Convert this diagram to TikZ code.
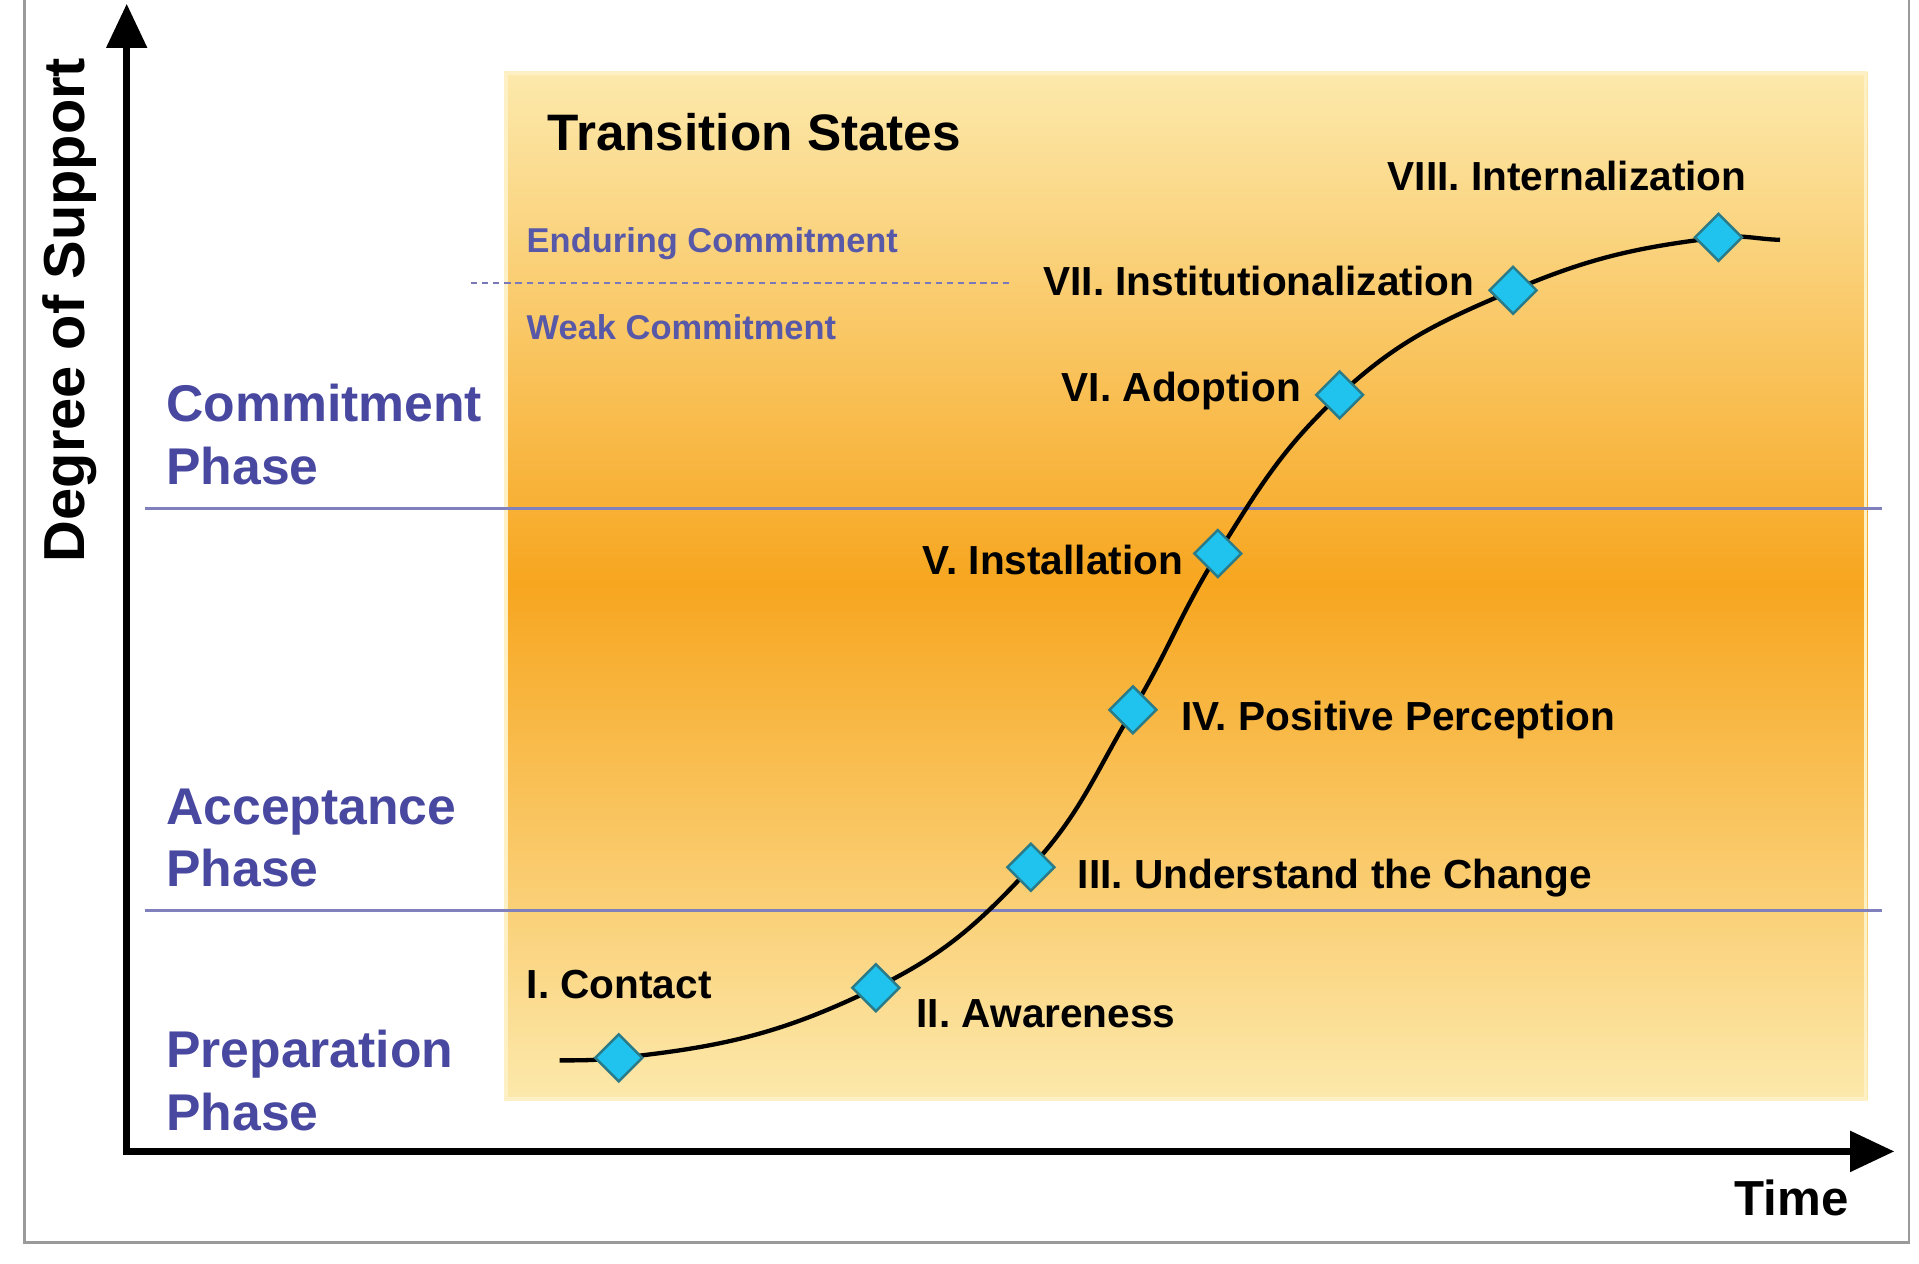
\documentclass[tikz,border=0pt]{standalone}
\usepackage{fontspec}
\setmainfont{Liberation Sans}
\usetikzlibrary{arrows.meta,shapes.geometric}
\definecolor{phasecol}{HTML}{4848A0}
\definecolor{sepline}{HTML}{8080BC}
\definecolor{smallblue}{HTML}{5858A8}
\definecolor{gemfill}{HTML}{1FC3EE}
\definecolor{gemedge}{HTML}{2B7A87}
\definecolor{paleY}{HTML}{FCE9AC}
\definecolor{deepO}{HTML}{F7A61F}
\definecolor{framecol}{HTML}{9A9A9A}
\tikzset{
  axisline/.style={line width=6pt,-{Triangle[length=36pt,width=32pt]}},
  phase/.style={font=\bfseries\fontsize{42}{51}\selectfont,text=phasecol,align=left,inner sep=0pt,anchor=base west},
  statelbl/.style={font=\bfseries\fontsize{33}{38}\selectfont,text=black,inner sep=0pt,anchor=base west},
  commitlbl/.style={font=\bfseries\fontsize{28}{32}\selectfont,text=smallblue,inner sep=0pt,anchor=base west},
  gem/.style={diamond,fill=gemfill,draw=gemedge,line width=2pt,minimum width=39pt,minimum height=39pt,inner sep=0pt},
  sep/.style={draw=sepline,line width=2.5pt},
  scurve/.style={line width=3.5pt,black}
}
\begin{document}
\begin{tikzpicture}[x=1pt,y=-1pt]
\useasboundingbox (0,0) rectangle (1560,1027.5);
\fill[white] (0,0) rectangle (1560,1027.5);
% frame
\draw[framecol,line width=2pt] (20,-10) rectangle (1552,1010);
% orange box
\shade[top color=paleY,bottom color=deepO] (410,58) rectangle (1518,475);
\shade[top color=deepO,bottom color=paleY] (410,474) rectangle (1518,895);
\draw[paleY!70!white,line width=3pt] (411.5,59.5) rectangle (1516.5,893.5);
% separators
\coordinate (s1a) at (118,413); \coordinate (s1b) at (1530,413);
\coordinate (s2a) at (118,740); \coordinate (s2b) at (1530,740);
\draw[sep] (s1a) -- (s1b);
\draw[sep] (s2a) -- (s2b);
% dashed commitment line
\coordinate (da) at (383,230); \coordinate (db) at (820,230);
\draw[smallblue!80,line width=1.6pt,dash pattern=on 5pt off 4pt] (da) -- (db);
% axes
\coordinate (origin) at (103,936);
\coordinate (ytip) at (103,3);
\coordinate (xtip) at (1540,936);
\draw[axisline] (103,939) -- (ytip);
\draw[axisline] (100,936) -- (xtip);
\node[font=\bfseries\fontsize{47}{52}\selectfont,rotate=90,inner sep=0pt] (ylab) at (57,252) {Degree of Support};
\node[font=\bfseries\fontsize{40}{46}\selectfont,inner sep=0pt,anchor=base west] (xlab) at (1410,988) {Time};
% phases (base = last line)
\node[phase] (ph1) at (135,394) {Commitment\\Phase};
\node[phase] (ph2) at (135,721) {Acceptance\\Phase};
\node[phase] (ph3) at (135,919) {Preparation\\Phase};
% titles
\node[font=\bfseries\fontsize{41.7}{46}\selectfont,inner sep=0pt,anchor=base west] (title) at (445,122) {Transition States};
\node[commitlbl] (endur) at (428,205) {Enduring Commitment};
\node[commitlbl] (weak) at (428,276) {Weak Commitment};
% curve
\coordinate (c0) at (455,862);
\coordinate (p1) at (503,860);
\coordinate (p2) at (712,803);
\coordinate (p3) at (838,705);
\coordinate (p4) at (921,577);
\coordinate (p5) at (990,450);
\coordinate (p6) at (1089,321);
\coordinate (p7) at (1230,236);
\coordinate (p8) at (1397,193);
\coordinate (c9) at (1447,195);
\draw[scurve] (c0) to[out=0,in=186] (p1) to[out=6,in=206] (p2) to[out=26,in=227] (p3)
  to[out=47,in=239] (p4) to[out=59,in=238] (p5) to[out=58,in=223] (p6)
  to[out=43,in=203] (p7) to[out=23,in=187] (p8) to[out=7,in=178] (c9);
\foreach \i in {1,...,8} \node[gem] (g\i) at (p\i) {};
% state labels
\node[statelbl] (l1) at (428,812) {I. Contact};
\node[statelbl] (l2) at (745,835) {II. Awareness};
\node[statelbl] (l3) at (876,722) {III. Understand the Change};
\node[statelbl] (l4) at (960,594) {IV. Positive Perception};
\node[statelbl] (l5) at (750,467) {V. Installation};
\node[statelbl] (l6) at (863,326) {VI. Adoption};
\node[statelbl] (l7) at (848,240) {VII. Institutionalization};
\node[statelbl] (l8) at (1128,155) {VIII. Internalization};
\end{tikzpicture}
\end{document}
